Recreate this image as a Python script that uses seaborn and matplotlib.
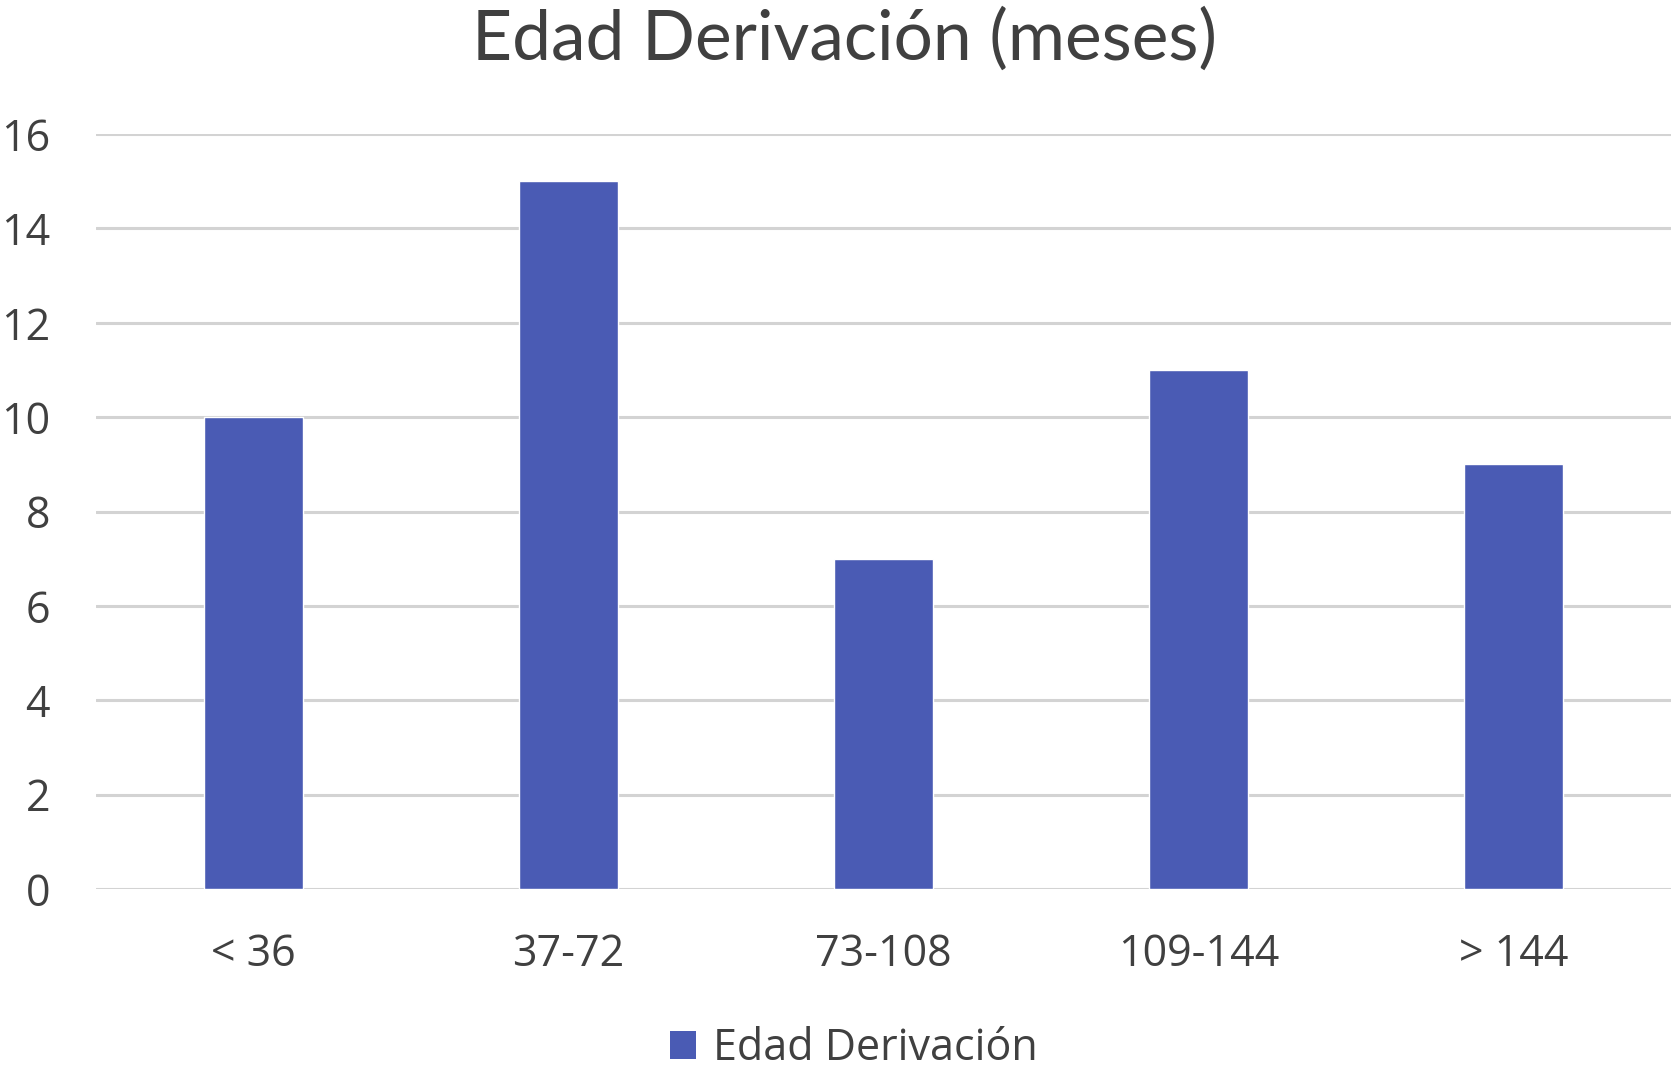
import matplotlib
matplotlib.use("Agg")
import matplotlib.pyplot as plt
import seaborn as sns
import pandas as pd
from matplotlib.patches import Patch

categories = ["< 36", "37-72", "73-108", "109-144", "> 144"]
values = [10, 15, 7, 11, 9]
series_name = "Edad Derivación"
title = "Edad Derivación (meses)"
yticks = [0, 2, 4, 6, 8, 10, 12, 14, 16]

sns.set_style("white")
plt.rcParams["font.family"] = ["Open Sans", "DejaVu Sans"]

bar_color = "#4A5BB4"
text_color = "#404040"
grid_color = "#D3D3D3"

df = pd.DataFrame({"cat": categories, "val": values})

fig = plt.figure(figsize=(16.75, 10.68), dpi=100)
ax = fig.add_axes([0.0573, 0.1676, 0.9403, 0.7069])
sns.barplot(data=df, x="cat", y="val", color=bar_color, width=0.315,
            saturation=1, ax=ax, zorder=3)
ax.set_xlim(-0.5, 4.5)
ax.set_ylim(0, 16)
ax.set_yticks(yticks)
ax.set_yticklabels([str(t) for t in yticks])
ax.yaxis.grid(True, color=grid_color, linewidth=2.2, zorder=0)
ax.set_axisbelow(True)
for s in ax.spines.values():
    s.set_visible(False)
ax.set_xlabel("")
ax.set_ylabel("")
ax.tick_params(axis="y", length=0, pad=33, labelsize=31, labelcolor=text_color)
ax.tick_params(axis="x", length=0, pad=31, labelsize=31, labelcolor=text_color)
for lab in ax.get_yticklabels():
    lab.set_horizontalalignment("right")

fig.text(0.504, 0.963, title, ha="center", va="center", fontsize=50,
         color=text_color, family=["Lato", "DejaVu Sans"])

handles = [Patch(facecolor=bar_color, edgecolor="none", label=series_name)]
fig.legend(handles=handles, loc="center", bbox_to_anchor=(0.51, 0.018),
           frameon=False, fontsize=31, labelcolor=text_color,
           handlelength=0.6, handleheight=0.6, handletextpad=0.4)

fig.savefig("out.png", dpi=100)
